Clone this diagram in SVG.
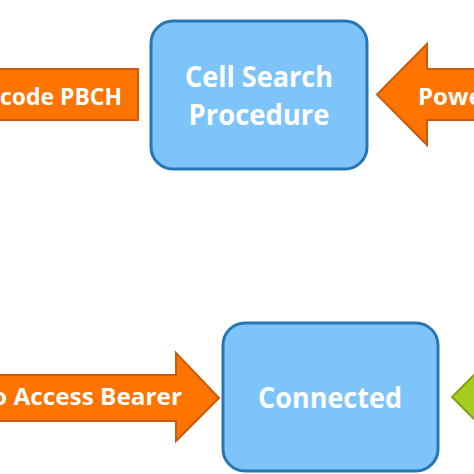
<svg xmlns="http://www.w3.org/2000/svg" width="474" height="474" viewBox="0 0 474 474">
<style>
.box{fill:#7DC4FB;stroke:#2676B5;stroke-width:3}
.arr{fill:#FF7300;stroke:#C95A0E;stroke-width:2}
.grn{fill:#A6CC1E;stroke:#82A315;stroke-width:2}
text{font-family:"Open Sans","Liberation Sans",sans-serif;font-weight:bold;fill:#FFFFFF}
.big{font-size:29px}
.sm{font-size:24px}
</style>
<rect width="474" height="474" fill="#FFFFFF"/>
<g id="connectors">
<g id="arrow-decode">
<polygon class="arr" points="-5,69 138,69 138,120 -5,120"/>
<text class="sm" x="122" y="105" text-anchor="end" textLength="122" lengthAdjust="spacingAndGlyphs">code PBCH</text>
</g>
<g id="arrow-power">
<polygon class="arr" points="480,69 427,69 427,44 377,94.5 427,145 427,120 480,120"/>
<text class="sm" x="418" y="105">Powe</text>
</g>
<g id="arrow-bearer">
<polygon class="arr" points="-5,375 176,375 176,353 219,398 176,441 176,421 -5,421"/>
<text class="sm" x="182" y="405" text-anchor="end" textLength="190" lengthAdjust="spacingAndGlyphs">o Access Bearer</text>
</g>
<g id="arrow-green">
<polygon class="grn" points="480,369 452,397 480,425"/>
</g>
</g>
<g id="node-cell-search">
<rect class="box" x="151" y="21" width="216" height="148" rx="22" ry="22"/>
<text class="big" x="259" y="87" text-anchor="middle" textLength="148" lengthAdjust="spacingAndGlyphs">Cell Search</text>
<text class="big" x="259" y="125" text-anchor="middle" textLength="141" lengthAdjust="spacingAndGlyphs">Procedure</text>
</g>
<g id="node-connected">
<rect class="box" x="223" y="323" width="215" height="148" rx="22" ry="22"/>
<text class="big" x="330" y="408" text-anchor="middle" textLength="144" lengthAdjust="spacingAndGlyphs">Connected</text>
</g>
</svg>
